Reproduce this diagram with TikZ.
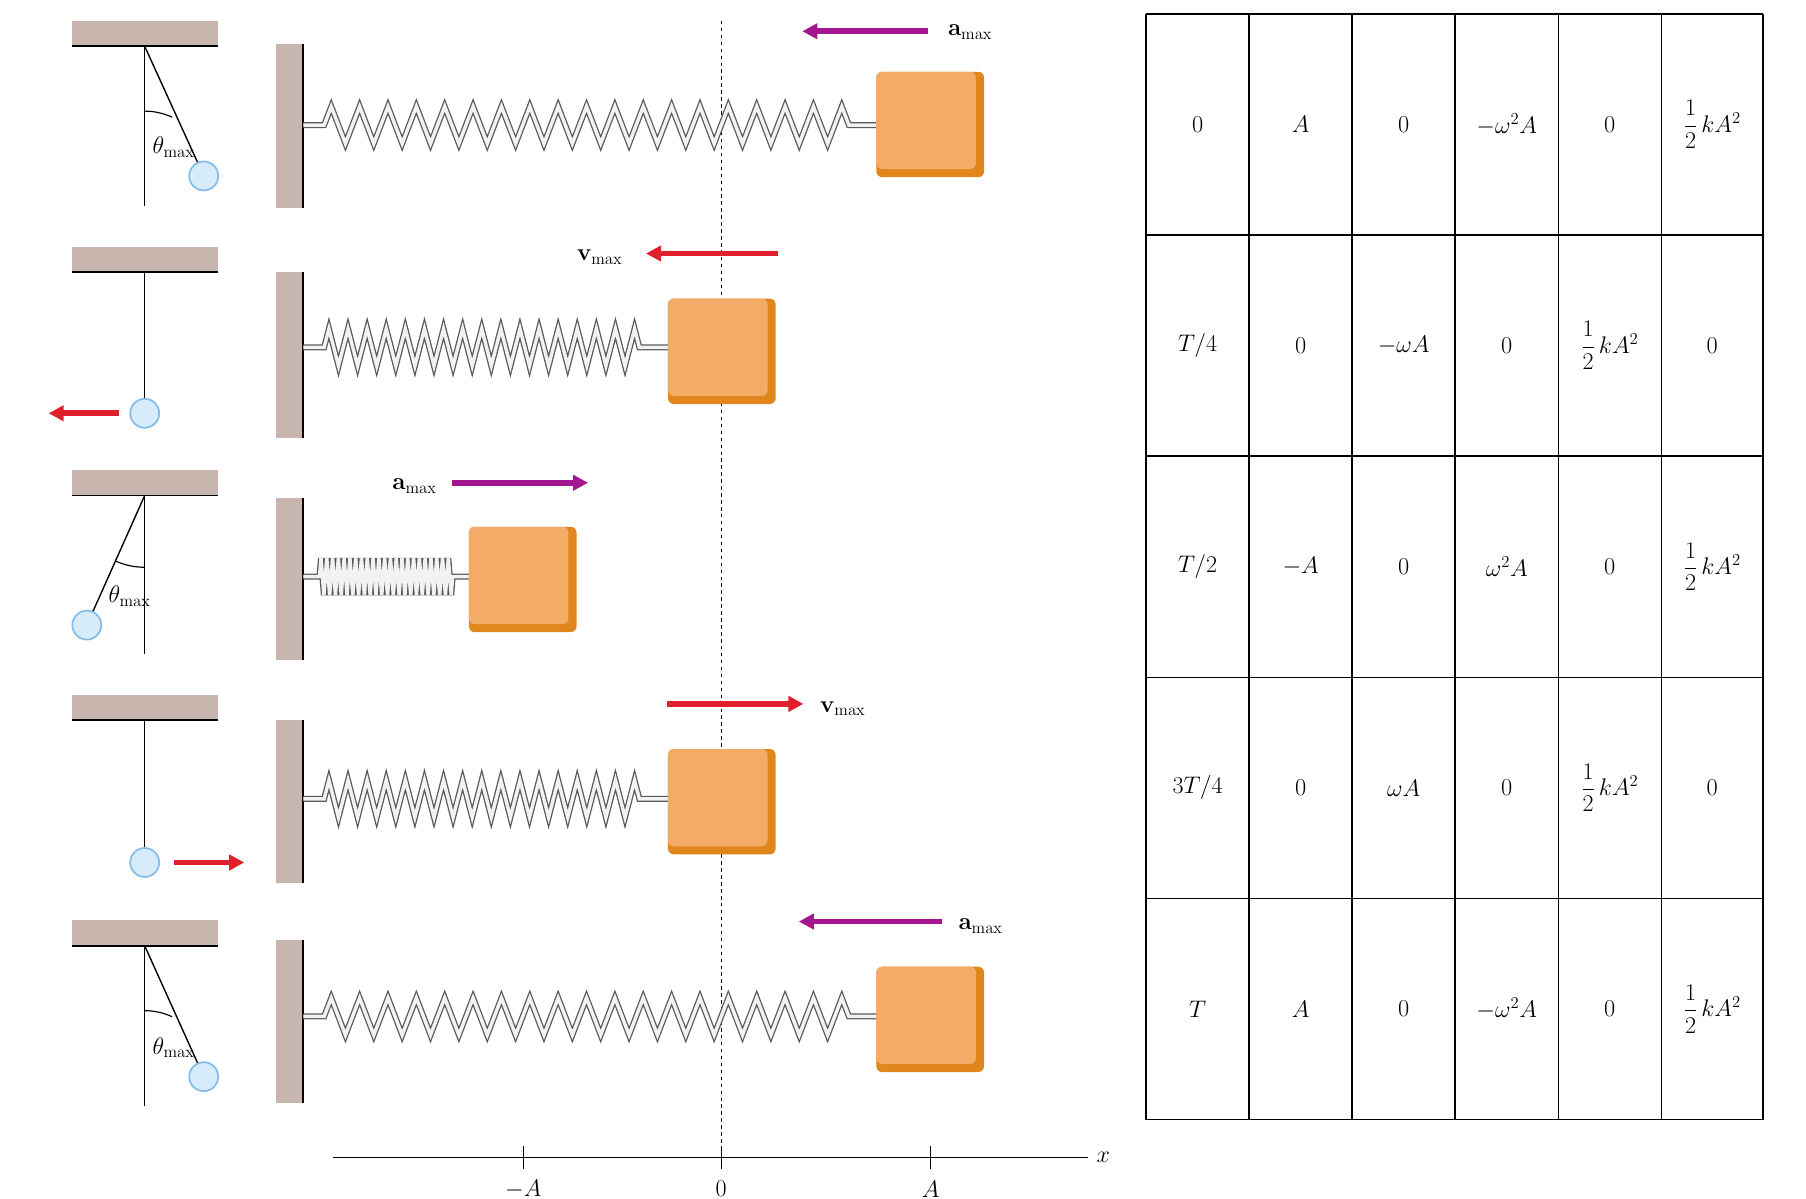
\documentclass[tikz,border=0pt]{standalone}
\usepackage{amsmath}
\usetikzlibrary{arrows.meta,decorations.pathmorphing}
\definecolor{ceil}{HTML}{C8B6AE}
\definecolor{blk}{HTML}{F2AC68}
\definecolor{blkd}{HTML}{E0861C}
\definecolor{mag}{HTML}{A3168F}
\definecolor{rd}{HTML}{E01E2C}
\definecolor{bobf}{HTML}{D6ECFB}
\definecolor{bobd}{HTML}{86BDE8}
\tikzset{
 springst/.style={draw=gray!70!black,double=gray!10,double distance=3pt,line width=1.1pt},
 magarrow/.style={mag,line width=5pt,-{Triangle[length=13pt,width=13pt]}},
 redarrow/.style={rd,line width=5pt,-{Triangle[length=13pt,width=13pt]}},
 cell/.style={font=\fontsize{21}{24}\selectfont},
 lbl/.style={font=\fontsize{21}{24}\selectfont},
 bob/.style={circle,draw=bobd,fill=bobf,line width=1.5pt,minimum size=25pt,inner sep=0pt},
}
\newcommand\myceil[1]{\fill[ceil] (62,#1-22) rectangle (188,#1); \draw[line width=1.5pt] (62,#1)--(188,#1);}
\newcommand\mywall[2]{\fill[ceil] (238,#1) rectangle (262,#2); \draw[line width=1.8pt] (262,#1)--(262,#2);}
\newcommand\myblock[3]{\fill[blkd,rounded corners=5pt] (#1,#2) rectangle (#1+93,#2+91);
 \fill[blk,rounded corners=5pt] (#1,#2) rectangle (#1+86,#2+84);
 \node[coordinate] (#3) at (#1+46,#2+45) {};}
\newcommand\myspring[3]{\draw[springst] (262,#2) -- (280,#2) decorate[decoration={zigzag,segment length=#3,amplitude=16pt}]{-- (#1-20,#2)} -- (#1,#2);}
\begin{document}
\begin{tikzpicture}[x=1pt,y=-1pt]
\useasboundingbox (0,0) rectangle (1560,1035);
% dashed line and axis
\draw[dashed,line width=1pt] (623,18) -- (623,1000);
\coordinate (axL) at (288,1000); \coordinate (axR) at (940,1000);
\draw[line width=1pt] (axL) -- (axR);
\foreach \x/\t [count=\i] in {452/$-A$,623/$0$,804/$A$}{
 \draw[line width=1pt] (\x,990) -- (\x,1010);
 \node[lbl] (tk\i) at (\x,1027) {\t};}
\node[lbl] (xl) at (953,1000) {$x$};
% row 1
\myceil{40}\mywall{38}{180}
\myspring{757}{108}{24.5}\myblock{757}{62}{b1}
\node[bob] (p1) at (176,152) {};
\coordinate (v1) at (125,40);
\draw[line width=1.2pt] (v1)--(125,178); \draw[line width=1.2pt] (v1)--(p1);
\draw[line width=1pt] (125,96) arc[start angle=90,end angle=65,radius=56pt];
\node[lbl] at (150,127) {$\theta_{\mathrm{max}}$};
\coordinate (a1s) at (802,27); \coordinate (a1e) at (693,27);
\draw[magarrow] (a1s)--(a1e); \node[lbl] at (838,28) {$\mathbf{a}_{\mathrm{max}}$};
% row 2
\myceil{235}\mywall{235}{378}
\myspring{577}{300}{16.5}\myblock{577}{258}{b2}
\node[bob] (p2) at (125,357) {};
\coordinate (v2) at (125,235); \draw[line width=1.2pt] (v2)--(p2);
\coordinate (r2s) at (103,357); \coordinate (r2e) at (42,357);
\draw[redarrow] (r2s)--(r2e);
\coordinate (a2s) at (672,219); \coordinate (a2e) at (558,219);
\draw[redarrow] (a2s)--(a2e); \node[lbl] at (518,222) {$\mathbf{v}_{\mathrm{max}}$};
% row 3
\myceil{428}\mywall{430}{570}
\draw[springst] (262,498) -- (276,498) decorate[decoration={zigzag,segment length=5pt,amplitude=16pt}]{-- (392,498)} -- (405,498);
\myblock{405}{455}{b3}
\node[bob] (p3) at (75,540) {};
\coordinate (v3) at (125,428);
\draw[line width=1.2pt] (v3)--(125,565); \draw[line width=1.2pt] (v3)--(p3);
\draw[line width=1pt] (125,490) arc[start angle=270,end angle=246,radius=62pt];
\node[lbl] at (112,515) {$\theta_{\mathrm{max}}$};
\coordinate (a3s) at (390,417); \coordinate (a3e) at (508,417);
\draw[magarrow] (a3s)--(a3e); \node[lbl] at (358,420) {$\mathbf{a}_{\mathrm{max}}$};
% row 4
\myceil{622}\mywall{622}{763}
\myspring{577}{690}{16.5}\myblock{577}{647}{b4}
\node[bob] (p4) at (125,745) {};
\coordinate (v4) at (125,622); \draw[line width=1.2pt] (v4)--(p4);
\coordinate (r4s) at (150,745); \coordinate (r4e) at (211,745);
\draw[redarrow] (r4s)--(r4e);
\coordinate (a4s) at (576,608); \coordinate (a4e) at (694,608);
\draw[redarrow] (a4s)--(a4e); \node[lbl] at (728,612) {$\mathbf{v}_{\mathrm{max}}$};
% row 5
\myceil{817}\mywall{812}{953}
\myspring{757}{878}{24.5}\myblock{757}{835}{b5}
\node[bob] (p5) at (176,930) {};
\coordinate (v5) at (125,817);
\draw[line width=1.2pt] (v5)--(125,955); \draw[line width=1.2pt] (v5)--(p5);
\draw[line width=1pt] (125,873) arc[start angle=90,end angle=65,radius=56pt];
\node[lbl] at (150,905) {$\theta_{\mathrm{max}}$};
\coordinate (a5s) at (814,796); \coordinate (a5e) at (690,796);
\draw[magarrow] (a5s)--(a5e); \node[lbl] at (847,800) {$\mathbf{a}_{\mathrm{max}}$};
% table
\foreach \x in {990,1079,1168,1257,1346,1435,1523} \draw[line width=1.3pt] (\x,12)--(\x,967);
\foreach \y in {12,203,394,585,776,967} \draw[line width=1.3pt] (990,\y)--(1523,\y);
\def\h{$\dfrac{1}{2}\,kA^2$}
\foreach \r/\ra/\rb/\rc/\rd/\rf [count=\i] in {
 {0}/{$A$}/{0}/{$-\omega^2A$}/{0}/{\h},
 {$T/4$}/{0}/{$-\omega A$}/{0}/{\h}/{0},
 {$T/2$}/{$-A$}/{0}/{$\omega^2A$}/{0}/{\h},
 {$3T/4$}/{0}/{$\omega A$}/{0}/{\h}/{0},
 {$T$}/{$A$}/{0}/{$-\omega^2A$}/{0}/{\h}}{
 \pgfmathsetmacro\yy{12+191*\i-95.5}
 \node[cell] (c\i a) at (1034.5,\yy) {\r};
 \node[cell] (c\i b) at (1123.5,\yy) {\ra};
 \node[cell] (c\i c) at (1212.5,\yy) {\rb};
 \node[cell] (c\i d) at (1301.5,\yy) {\rc};
 \node[cell] (c\i e) at (1390.5,\yy) {\rd};
 \node[cell] (c\i f) at (1479,\yy) {\rf};
}
\end{tikzpicture}
\end{document}
